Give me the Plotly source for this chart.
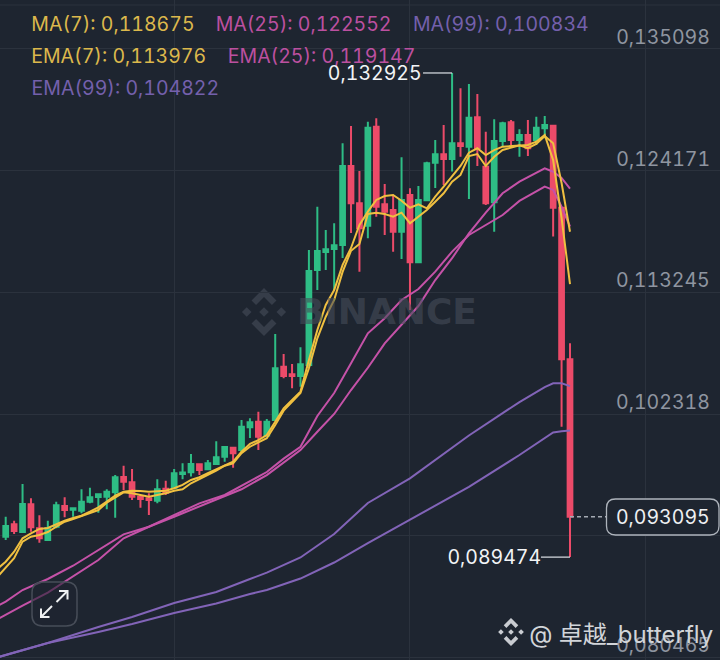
import plotly.graph_objects as go

# candles
open_ = [0.09131, 0.09242, 0.09173, 0.09421, 0.09206, 0.09101, 0.0922, 0.09406, 0.09373, 0.09364,
         0.09445, 0.09487, 0.0949, 0.09529, 0.09666, 0.09619, 0.0949, 0.09475, 0.09454, 0.09561,
         0.0957, 0.09694, 0.09709, 0.0978, 0.09735, 0.09783, 0.09849, 0.09929, 0.09908, 0.10112,
         0.10163, 0.10039, 0.10178, 0.10655, 0.10588, 0.10573, 0.10672, 0.11525, 0.11686, 0.11713,
         0.11749, 0.12458, 0.12123, 0.11922, 0.1281, 0.12114, 0.12063, 0.11868, 0.12197, 0.11594,
         0.1215, 0.12487, 0.12563, 0.1252, 0.12661, 0.12631, 0.12895, 0.1245, 0.12132, 0.12682,
         0.1285, 0.12691, 0.12736, 0.12691, 0.12796, 0.12819, 0.12083, 0.10724]
high = [0.0931, 0.09274, 0.09604, 0.09475, 0.09323, 0.09274, 0.09445, 0.09484, 0.09386, 0.09556,
        0.0957, 0.0952, 0.09556, 0.09684, 0.09768, 0.09738, 0.09505, 0.0952, 0.09646, 0.09633,
        0.09738, 0.09789, 0.09873, 0.09783, 0.09819, 0.09987, 0.09938, 0.09929, 0.10178, 0.10193,
        0.10252, 0.10187, 0.1095, 0.1077, 0.10681, 0.1083, 0.11704, 0.12092, 0.11883, 0.11943,
        0.12661, 0.12817, 0.12413, 0.12855, 0.12886, 0.12296, 0.12197, 0.12536, 0.12257, 0.12278,
        0.12496, 0.12691, 0.12826, 0.132925, 0.13155, 0.13194, 0.13104, 0.12765, 0.12877, 0.12855,
        0.1287, 0.12787, 0.1287, 0.129, 0.12906, 0.12819, 0.1209, 0.10866]
low = [0.09101, 0.09155, 0.09167, 0.09175, 0.09077, 0.09101, 0.09206, 0.09305, 0.0931, 0.09341,
       0.0943, 0.09346, 0.09377, 0.09301, 0.0955, 0.0946, 0.09391, 0.09325, 0.0943, 0.09505,
       0.09565, 0.09646, 0.0967, 0.09684, 0.09729, 0.09774, 0.09804, 0.0975, 0.09881, 0.10016,
       0.09908, 0.10028, 0.10178, 0.10552, 0.10462, 0.10477, 0.10657, 0.11345, 0.11525, 0.11345,
       0.11632, 0.11856, 0.11509, 0.11809, 0.12003, 0.11839, 0.11689, 0.11623, 0.11165, 0.11587,
       0.1215, 0.1226, 0.12287, 0.12408, 0.12541, 0.12161, 0.12458, 0.12108, 0.11868, 0.12631,
       0.12646, 0.12541, 0.12547, 0.12646, 0.12706, 0.11824, 0.10118, 0.089474]
close = [0.09227, 0.09182, 0.09424, 0.09215, 0.09116, 0.09206, 0.09412, 0.0937, 0.09386, 0.09445,
         0.09484, 0.09511, 0.09534, 0.09664, 0.09624, 0.0949, 0.09469, 0.0946, 0.09556, 0.09526,
         0.097, 0.09706, 0.09783, 0.09729, 0.09789, 0.09843, 0.09936, 0.09879, 0.10117, 0.10157,
         0.10028, 0.10163, 0.10642, 0.10574, 0.10573, 0.10678, 0.11515, 0.11695, 0.1171, 0.11746,
         0.12458, 0.12123, 0.11899, 0.12801, 0.12092, 0.12048, 0.11868, 0.12153, 0.11594, 0.12153,
         0.12482, 0.12563, 0.1252, 0.12661, 0.12637, 0.12891, 0.12617, 0.12123, 0.12682, 0.12841,
         0.12691, 0.12736, 0.12617, 0.12801, 0.12826, 0.12083, 0.10724, 0.093095]

# the short averages have a point on every candle, and one more off the left edge
short_idx = list(range(-1, 68))
ema7 = [0.08841, 0.08906, 0.08996, 0.09116, 0.09161, 0.092, 0.09209, 0.09245, 0.09274, 0.09298, 0.09319,
        0.09355, 0.09394, 0.09445, 0.09499, 0.09534, 0.09543, 0.0954, 0.09534, 0.09538, 0.09543,
        0.09565, 0.09595, 0.0964, 0.09664, 0.097, 0.09736, 0.09774, 0.09804, 0.09894, 0.09963,
        0.09998, 0.10043, 0.10163, 0.10283, 0.103575, 0.10433, 0.10716, 0.10986, 0.1121, 0.11345,
        0.1157, 0.11722, 0.11929, 0.12048, 0.12153, 0.12188, 0.12197, 0.12146, 0.12083, 0.12114,
        0.12078, 0.12182, 0.12272, 0.12368, 0.12458, 0.12577, 0.12617, 0.12556, 0.12601, 0.12631,
        0.12637, 0.12646, 0.12646, 0.12676, 0.12736, 0.12511, 0.11991, 0.113976]
ma7 = [0.08769, 0.08852, 0.08937, 0.09086, 0.09131, 0.09146, 0.09173, 0.0922, 0.09265, 0.09289, 0.09316,
       0.09341, 0.0937, 0.09436, 0.09484, 0.09529, 0.0952, 0.09505, 0.0949, 0.09505, 0.0952,
       0.09543, 0.09556, 0.0961, 0.09646, 0.09684, 0.09723, 0.09768, 0.09789, 0.09881, 0.09938,
       0.09978, 0.10014, 0.10133, 0.10262, 0.10342, 0.1042, 0.10642, 0.10911, 0.11105, 0.11255,
       0.11507, 0.11697, 0.11758, 0.12027, 0.12039, 0.12027, 0.12003, 0.12039, 0.11944, 0.12003,
       0.12063, 0.12137, 0.12213, 0.12317, 0.12377, 0.12547, 0.12565, 0.12458, 0.12541, 0.12601,
       0.12625, 0.12643, 0.12617, 0.12655, 0.12727, 0.12661, 0.12305, 0.118675]

# the slower ones only where they bend
mid_idx = [-1, 0, 2, 5, 8, 11, 14, 17, 20, 23, 26, 28, 31, 33, 35, 37, 39, 41, 43, 45, 47, 49, 51, 53, 55,
           57, 59, 61, 64, 65, 66, 67]
ma25 = [0.0839, 0.08428, 0.08511, 0.08628, 0.08772, 0.08921, 0.09116, 0.0922, 0.0931, 0.094, 0.0949, 0.09556,
        0.09684, 0.098, 0.09908, 0.10073, 0.10232, 0.10447, 0.10647, 0.10866, 0.11031, 0.11201, 0.11434,
        0.1163, 0.11854, 0.12039, 0.12213, 0.12317, 0.12437, 0.12406, 0.1235, 0.122552]
ema25 = [0.08508, 0.08548, 0.08652, 0.08751, 0.0887, 0.09011, 0.09152, 0.0922, 0.09325, 0.0943, 0.09505, 0.09586,
         0.09711, 0.09831, 0.09938, 0.10214, 0.1042, 0.10687, 0.10956, 0.11091, 0.11255, 0.11354, 0.11509,
         0.11689, 0.11839, 0.11928, 0.12018, 0.12144, 0.12273, 0.12243, 0.12092, 0.119147]

long_idx = [-1, 0, 5, 11, 15, 20, 25, 29, 31, 35, 39, 43, 48, 55, 61, 64, 65, 66, 67]
ema99 = [0.08047, 0.08069, 0.08177, 0.0832, 0.0841, 0.08536, 0.08634, 0.08751, 0.08808, 0.08944, 0.09155, 0.09433,
         0.09654, 0.10039, 0.10339, 0.10474, 0.10507, 0.10507, 0.104822]
ma99 = [0.08047, 0.08069, 0.08177, 0.08275, 0.08347, 0.08446, 0.08531, 0.08616, 0.08652, 0.08755, 0.08899, 0.09074,
        0.09281, 0.09577, 0.09864, 0.10016, 0.10066, 0.10077, 0.100834]

tick_vals = [0.135098, 0.124171, 0.113245, 0.102318, 0.091392, 0.080465]
tick_labels = ["0,135098", "0,124171", "0,113245", "0,102318", "", "0,080465"]
time_grid = [20, 48, 76]

high_label = "0,132925"
low_label = "0,089474"
last_label = "0,093095"

BG = "#1e2530"
GRID = "#2b323d"
GREEN = "#2ebd85"
RED = "#ec4b69"
YELLOW = "#f0c040"
PINK = "#c552a8"
PURPLE = "#8264b8"
W, H = 720, 660


def px(x):
    return x / W


def py(y):
    return 1 - y / H


def poly(points, **kw):
    d = "M" + " L".join(f"{px(x):.5f},{py(y):.5f}" for x, y in points) + " Z"
    return dict(type="path", xref="paper", yref="paper", path=d, line_width=0, **kw)


def round_box(x0, x1, y0, y1, r):
    return (f"M{px(x0 + r):.5f},{py(y0):.5f} L{px(x1 - r):.5f},{py(y0):.5f} Q{px(x1):.5f},{py(y0):.5f} {px(x1):.5f},{py(y0 + r):.5f} "
            f"L{px(x1):.5f},{py(y1 - r):.5f} Q{px(x1):.5f},{py(y1):.5f} {px(x1 - r):.5f},{py(y1):.5f} "
            f"L{px(x0 + r):.5f},{py(y1):.5f} Q{px(x0):.5f},{py(y1):.5f} {px(x0):.5f},{py(y1 - r):.5f} "
            f"L{px(x0):.5f},{py(y0 + r):.5f} Q{px(x0):.5f},{py(y0):.5f} {px(x0 + r):.5f},{py(y0):.5f} Z")


def binance_logo(cx, cy, r, color, layer):
    # diamond mark: centre, two side squares and two chevrons
    out = []
    s = r * 0.2
    for dx, dy in [(0, 0), (-r * 0.72, 0), (r * 0.72, 0)]:
        out.append(poly([(cx + dx, cy + dy - s), (cx + dx + s, cy + dy), (cx + dx, cy + dy + s),
                         (cx + dx - s, cy + dy)], fillcolor=color, layer=layer))
    for sign in (-1, 1):
        out.append(poly([(cx, cy + sign * r), (cx + r * 0.52, cy + sign * r * 0.48),
                         (cx + r * 0.33, cy + sign * r * 0.29), (cx, cy + sign * r * 0.62),
                         (cx - r * 0.33, cy + sign * r * 0.29), (cx - r * 0.52, cy + sign * r * 0.48)],
                        fillcolor=color, layer=layer))
    return out


idx = list(range(len(open_)))

fig = go.Figure()
fig.add_trace(go.Candlestick(
    x=idx, open=open_, high=high, low=low, close=close, whiskerwidth=0,
    increasing=dict(line=dict(color=GREEN, width=2), fillcolor=GREEN),
    decreasing=dict(line=dict(color=RED, width=2), fillcolor=RED),
    hoverinfo="skip",
))
for xs, ys, color in [(long_idx, ema99, PURPLE), (long_idx, ma99, PURPLE),
                      (mid_idx, ma25, PINK), (mid_idx, ema25, PINK),
                      (short_idx, ma7, YELLOW), (short_idx, ema7, YELLOW)]:
    fig.add_trace(go.Scatter(x=xs, y=ys, mode="lines", line=dict(color=color, width=2), hoverinfo="skip"))

shapes = []
shapes += binance_logo(264, 312, 24, "#363d49", "below")
shapes += binance_logo(511, 632, 14, "#c9ccd1", "above")

# faint line along the top of the chart
shapes.append(dict(type="line", xref="paper", yref="paper", x0=0, x1=1, y0=py(5), y1=py(5),
                   line=dict(color=GRID, width=1), layer="below"))

# leader lines of the high, low and last price
high_i = high.index(max(high))
low_i = low.index(min(low))
shapes.append(dict(type="line", xref="x", yref="y", x0=high_i - 3.45, x1=high_i, y0=high[high_i], y1=high[high_i],
                   line=dict(color="#dfe3e8", width=1.2)))
shapes.append(dict(type="line", xref="x", yref="y", x0=low_i - 3.45, x1=low_i, y0=low[low_i], y1=low[low_i],
                   line=dict(color="#dfe3e8", width=1.2)))
shapes.append(dict(type="line", xref="x", yref="y", x0=low_i, x1=low_i + 4.3, y0=close[-1], y1=close[-1],
                   line=dict(color="#a5abb3", width=1.3, dash="4px,3px")))

# box round the last price
shapes.append(dict(type="path", xref="paper", yref="paper", path=round_box(606.5, 719, 499, 535, 9), fillcolor=BG,
                   line=dict(color="#aeb4bc", width=1.3)))

# expand button
shapes.append(dict(type="path", xref="paper", yref="paper", path=round_box(32, 77, 582, 626, 11),
                   fillcolor="rgba(30,37,48,0.6)", line=dict(color="#474d58", width=1.5)))
for pts in [[(56.5, 602), (67.5, 591)], [(59, 591), (67.5, 591), (67.5, 599.5)],
            [(41, 617), (52, 606)], [(41, 608.5), (41, 617), (49.5, 617)]]:
    d = "M" + " L".join(f"{px(a):.5f},{py(b):.5f}" for a, b in pts)
    shapes.append(dict(type="path", xref="paper", yref="paper", path=d, line=dict(color="#eef0f2", width=2)))

fig.update_layout(shapes=shapes)

TEXT_FONT = "Inter"


def text(x, y, s, color, size=19.5, anchor="left", family=TEXT_FONT):
    fig.add_annotation(xref="paper", yref="paper", x=px(x), y=py(y), text=s, showarrow=False,
                       xanchor=anchor, yanchor="middle", font=dict(family=family, size=size, color=color))


# legend rows, x nudged for the wider digits after the redraw
text(38, 24, "MA(7): 0,118675", "#dcb84c")
text(220, 24, "MA(25): 0,122552", "#bc50a0")
text(416, 24, "MA(99): 0,100834", "#7460ac")
text(38, 56, "EMA(7): 0,113976", "#dcb84c")
text(236, 56, "EMA(25): 0,119147", "#bc50a0")
text(35, 88, "EMA(99): 0,104822", "#7460ac")

# price labels sit just above their grid lines
for val, lab in zip(tick_vals, tick_labels):
    if lab:
        fig.add_annotation(xref="paper", yref="y", x=px(663), y=val, yshift=12, text=lab, showarrow=False,
                           xanchor="center", yanchor="middle", font=dict(family=TEXT_FONT, size=19.5, color="#8f95a0"))

fig.add_annotation(xref="x", yref="y", x=high_i - 4.07, y=high[high_i], text=high_label, showarrow=False,
                   xanchor="right", yanchor="middle", font=dict(family=TEXT_FONT, size=19.5, color="#f2f4f6"))
fig.add_annotation(xref="x", yref="y", x=low_i - 3.6, y=low[low_i], text=low_label, showarrow=False,
                   xanchor="right", yanchor="middle", font=dict(family=TEXT_FONT, size=19.5, color="#f2f4f6"))
text(663, 517, last_label, "#eef0f2", anchor="center")

# watermarks
text(295, 312, "<b>BINANCE</b>", "rgba(70,77,90,0.62)", size=36, family="DejaVu Sans")
text(527, 634, "@ 卓越_butterfly", "#d2d5d9", size=24, family="Inter, 'Noto Sans CJK SC'")

fig.update_xaxes(range=[-0.677, 84.81], tickvals=time_grid, showticklabels=False, showgrid=True,
                 gridcolor=GRID, gridwidth=1, zeroline=False, rangeslider_visible=False, showline=False, ticks="")
fig.update_yaxes(range=[0.08024, 0.139475], tickvals=tick_vals, showticklabels=False, showgrid=True,
                 gridcolor=GRID, gridwidth=1, zeroline=False, showline=False, ticks="")
fig.update_layout(width=W, height=H, margin=dict(l=0, r=0, t=0, b=0), paper_bgcolor=BG, plot_bgcolor=BG,
                  showlegend=False, boxgap=0.2)

# page margin off, digits equal width, then draw the labels again with that
page_fix = """
var s = document.createElement('style');
s.textContent = 'body{margin:0;background:#1e2530;overflow:hidden} svg text{font-feature-settings:"tnum" 1}';
document.head.appendChild(s);
Plotly.redraw('{plot_id}');
"""
fig.write_html("out.html", config=dict(displayModeBar=False), post_script=page_fix)
